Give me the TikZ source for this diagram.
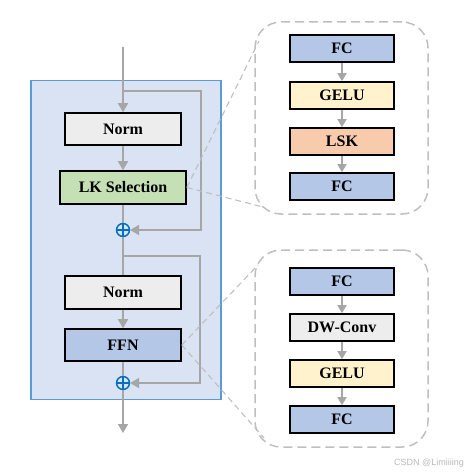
\documentclass[tikz,border=0pt]{standalone}
\usepackage{fontspec}
\setmainfont{Liberation Serif}
\newfontfamily\wmfont{Liberation Sans}
\usetikzlibrary{arrows.meta,calc}
\definecolor{panelfill}{HTML}{DAE3F3}
\definecolor{panelline}{HTML}{5B9BD5}
\definecolor{normfill}{HTML}{EDEDED}
\definecolor{greenfill}{HTML}{C5E0B4}
\definecolor{bluefill}{HTML}{B4C7E7}
\definecolor{yellowfill}{HTML}{FFF2CC}
\definecolor{orangefill}{HTML}{F8CBAD}
\definecolor{arrowgray}{HTML}{A6A6A6}
\definecolor{dashgray}{HTML}{BFBFBF}
\definecolor{plusblue}{HTML}{0070C0}
\tikzset{
  blk/.style={draw=black, line width=1.6pt, minimum height=#1, inner sep=0pt, font=\bfseries\fontsize{16}{18}\selectfont},
  blk/.default=32pt,
  small/.style={draw=black, line width=1.6pt, minimum width=104pt, minimum height=27pt, inner sep=0pt, font=\bfseries\fontsize{16}{18}\selectfont},
  flow/.style={draw=arrowgray, line width=1.8pt, -{Triangle[width=10pt,length=9pt]}},
  flowline/.style={draw=arrowgray, line width=1.8pt},
  subflow/.style={draw=arrowgray, line width=1.6pt, -{Triangle[width=9pt,length=8pt]}},
  plusnode/.style={circle, draw=plusblue, line width=1.2pt, minimum size=13pt, inner sep=0pt, fill=panelfill},
  zoomline/.style={draw=dashgray, line width=1.1pt, dash pattern=on 6pt off 4pt},
  subpanel/.style={draw=dashgray, line width=1.5pt, dash pattern=on 9pt off 5pt, rounded corners=26pt}
}
\begin{document}
\begin{tikzpicture}[x=1pt,y=-1pt]
\useasboundingbox (0,0) rectangle (469,473);
% main panel
\node[draw=panelline, fill=panelfill, line width=1.5pt, minimum width=190pt, minimum height=319pt, inner sep=0pt] (panel) at (126,240) {};
% sub panels
\node[subpanel, minimum width=173pt, minimum height=192pt, inner sep=0pt] (top) at (341.5,118) {};
\node[subpanel, minimum width=173pt, minimum height=197pt, inner sep=0pt] (bot) at (341.5,348.5) {};

% main column
\coordinate (in) at (123,47);
\coordinate (out) at (123,433);
\node[blk, fill=normfill, minimum width=116pt] (norm1) at (123,129) {Norm};
\node[blk=33pt, fill=greenfill, minimum width=126pt] (lk) at (123,187.5) {LK Selection};
\node[plusnode] (p1) at (123,230) {};
\node[blk=33pt, fill=normfill, minimum width=116pt] (norm2) at (123,292.5) {Norm};
\node[blk, fill=bluefill, minimum width=116pt] (ffn) at (123,345) {FFN};
\node[plusnode] (p2) at (123,383) {};
\coordinate (b1) at (123,91);
\coordinate (r1a) at (201,91);
\coordinate (r1b) at (201,230);
\coordinate (b2) at (123,256);
\coordinate (r2a) at (200,256);
\coordinate (r2b) at (200,383);

\draw[flow] (in) -- (norm1.north);
\draw[flow] (b1) -- (r1a) -- (r1b) -- (p1.east);
\draw[flow] (norm1) -- (lk);
\draw[flowline] (lk.south) -- (p1.center);
\draw[flowline] (p1.center) -- (norm2.north);
\draw[flow] (b2) -- (r2a) -- (r2b) -- (p2.east);
\draw[flow] (norm2) -- (ffn);
\draw[flowline] (ffn.south) -- (p2.center);
\draw[flow] (p2.center) -- (out);
% redraw plus symbols on top
\foreach \p in {p1,p2}{
  \node[plusnode, fill=none] at (\p) {};
  \draw[plusblue, line width=1.1pt] ($(\p.center)+(-6.5,0)$) -- ($(\p.center)+(6.5,0)$);
  \draw[plusblue, line width=1.1pt] ($(\p.center)+(0,-6.5)$) -- ($(\p.center)+(0,6.5)$);
}

% top sub panel
\node[small, fill=bluefill] (fc1) at (342,48.5) {FC};
\node[small, fill=yellowfill] (gelu1) at (342,95.5) {GELU};
\node[small, fill=orangefill] (lsk) at (342,141.5) {LSK};
\node[small, fill=bluefill] (fc2) at (342,186.5) {FC};
\draw[subflow] (fc1) -- (gelu1);
\draw[subflow] (gelu1) -- (lsk);
\draw[subflow] (lsk) -- (fc2);

% bottom sub panel
\node[small, fill=bluefill] (fc3) at (342,281.5) {FC};
\node[small, fill=normfill] (dw) at (342,327.5) {DW-Conv};
\node[small, fill=yellowfill] (gelu2) at (342,373.5) {GELU};
\node[small, fill=bluefill] (fc4) at (342,419.5) {FC};
\draw[subflow] (fc3) -- (dw);
\draw[subflow] (dw) -- (gelu2);
\draw[subflow] (gelu2) -- (fc4);

% zoom lines
\coordinate (t1) at (259,41);
\coordinate (t2) at (263,207);
\coordinate (u1) at (258,265);
\coordinate (u2) at (264,438);
\draw[zoomline] (lk.east) -- (t1);
\draw[zoomline] (lk.east) -- (t2);
\draw[zoomline] (ffn.east) -- (u1);
\draw[zoomline] (ffn.east) -- (u2);

% watermark
\node[text=black!28, font=\wmfont\fontsize{9}{10}\selectfont, inner sep=0pt] (wm) at (429,463) {CSDN @Limiiiing};
\end{tikzpicture}
\end{document}
